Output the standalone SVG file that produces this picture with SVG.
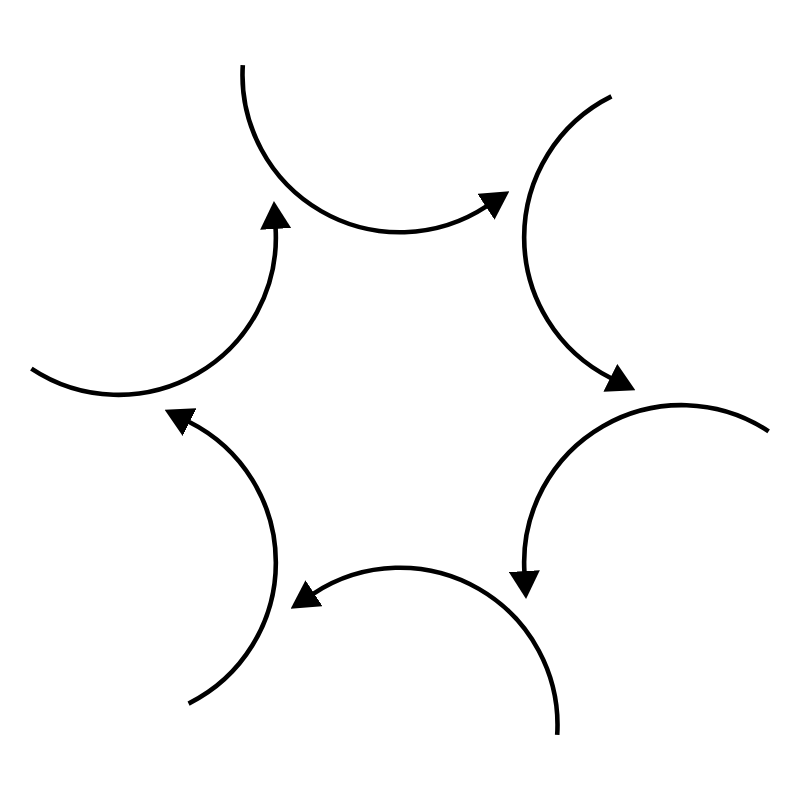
<svg xmlns="http://www.w3.org/2000/svg" width="800" height="800" viewBox="0 0 800 800">
  <defs>
    <style>
      .arc { fill: none; stroke: #000; stroke-width: 4.6; stroke-linecap: butt; }
      .head { fill: #000; }
    </style>
    <marker id="arrowhead" viewBox="-1 -15.5 28 31" markerWidth="28" markerHeight="31" refX="0" refY="0" orient="auto" markerUnits="userSpaceOnUse">
      <path class="head" d="M-1,-15.5 L27,0 L-1,15.5 Z"/>
    </marker>
    <path id="arcShape" class="arc" d="M242.8,65.1 A157.5,157.5 0 0 0 486.8,206.2" marker-end="url(#arrowhead)"/>
  </defs>
  <rect width="800" height="800" fill="#fff"/>
  <g id="connectors">
    <g id="arrow1"><use href="#arcShape"/></g>
    <g id="arrow2" transform="rotate(60 400 400)"><use href="#arcShape"/></g>
    <g id="arrow3" transform="rotate(120 400 400)"><use href="#arcShape"/></g>
    <g id="arrow4" transform="rotate(180 400 400)"><use href="#arcShape"/></g>
    <g id="arrow5" transform="rotate(240 400 400)"><use href="#arcShape"/></g>
    <g id="arrow6" transform="rotate(300 400 400)"><use href="#arcShape"/></g>
  </g>
</svg>
